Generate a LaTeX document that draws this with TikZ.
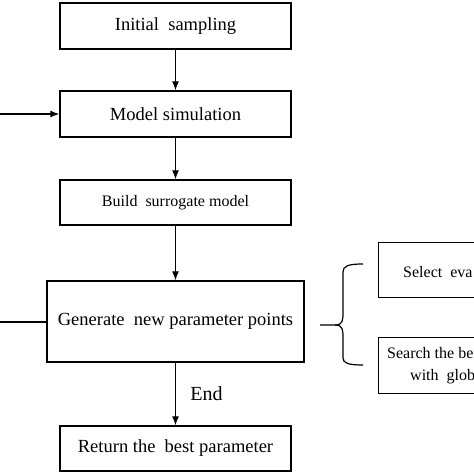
\documentclass[tikz,border=0pt]{standalone}
\usepackage{fontspec}
\setmainfont{Liberation Serif}
\usetikzlibrary{positioning,arrows.meta}
\tikzset{
  boite/.style={draw,line width=1.4pt,inner sep=0pt},
  fleche/.style={-{Latex[length=9pt,width=7pt]},line width=1.2pt},
}
\begin{document}
\begin{tikzpicture}[x=1pt,y=-1pt]
            \useasboundingbox (0,0) rectangle (474,474);
            \def\grand{\fontsize{18.5}{22}\selectfont}
            \def\petit{\fontsize{16}{19}\selectfont}
            \node [boite,minimum width=231pt,minimum height=46pt] (init) at (175.5,26) {\grand Initial~ sampling};
            \node [boite,minimum width=231pt,minimum height=46pt] (simu) at (175.5,114) {\grand Model simulation};
            \node [boite,minimum width=231pt,minimum height=45pt] (surr) at (175.5,202.5) {\petit Build~ surrogate model};
            \node [boite,minimum width=257pt,minimum height=81pt] (gene) at (175.5,321.5) {\grand Generate~ new parameter points};
            \node [boite,minimum width=231pt,minimum height=45pt] (best) at (175.5,448.5) {\grand Return the~ best parameter};
            %boites de droite, coupees par le bord
            \node [boite,anchor=north west,minimum width=150pt,minimum height=55pt] (sel) at (378,242) {};
            \node [boite,anchor=north west,minimum width=150pt,minimum height=56pt] (srch) at (378,337) {};
            \node [anchor=base west,inner sep=0pt] (selt) at (403,277) {\petit Select~ eva};
            \node [anchor=base west,inner sep=0pt] (srcht) at (387,358) {\petit Search the be};
            \node [anchor=base west,inner sep=0pt] (srcht2) at (410,380) {\petit with~ glob};
            % fleches
            \coordinate (retour) at (0,114);
            \coordinate (depart) at (0,322);
            \draw [fleche] (init) -- (simu);
            \draw [fleche] (simu) -- (surr);
            \draw [fleche] (surr) -- (gene);
            \draw [fleche] (gene) -- node [right=11pt] {\fontsize{20}{24}\selectfont End} (best);
            \draw [fleche] (retour) -- (simu.west);
            \draw [line width=1.2pt] (depart) -- (gene.west |- depart);
            % accolade
            \draw [line width=1.2pt] (320,325) -- (335,325) .. controls (343,325) and (343,320) .. (343,312)
                  -- (343,272) .. controls (343,266) and (348,264) .. (363,264);
            \draw [line width=1.2pt] (335,325) .. controls (343,325) and (343,330) .. (343,338)
                  -- (343,358) .. controls (343,363) and (348,365) .. (363,365);
        \end{tikzpicture}
\end{document}
